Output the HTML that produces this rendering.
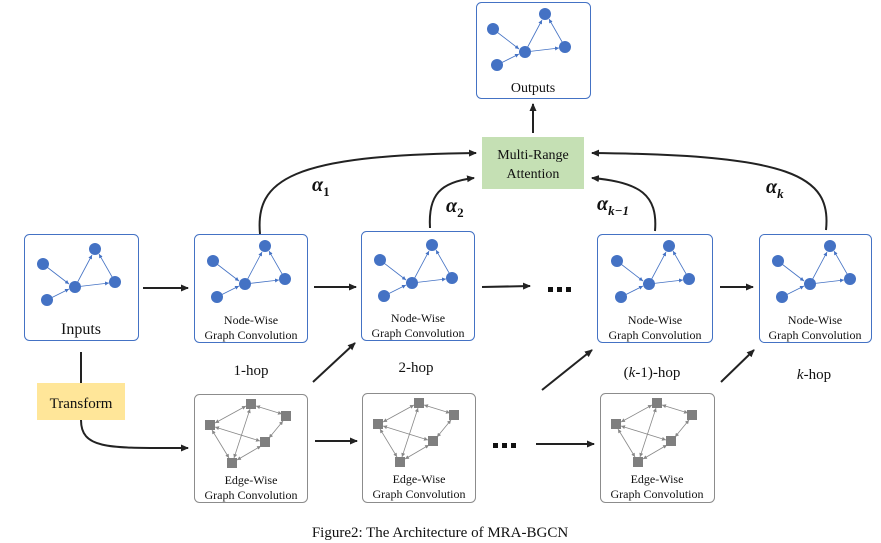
<!DOCTYPE html><html><head><meta charset="utf-8"><style>body{margin:0;background:#fff}svg{display:block}text{font-family:"Liberation Serif",serif}</style></head><body>
<svg width="881" height="543" viewBox="0 0 881 543" xmlns="http://www.w3.org/2000/svg">
<defs>
<marker id="a" markerWidth="8" markerHeight="8" refX="7" refY="4" orient="auto" markerUnits="userSpaceOnUse"><path d="M0,0.5L8,4L0,7.5z" fill="#222"/></marker>
<marker id="b" markerWidth="4" markerHeight="4" refX="4" refY="2" orient="auto-start-reverse" markerUnits="userSpaceOnUse"><path d="M0,0L4,2L0,4z" fill="#4472c4"/></marker>
<marker id="c" markerWidth="4" markerHeight="4" refX="4" refY="2" orient="auto-start-reverse" markerUnits="userSpaceOnUse"><path d="M0,0L4,2L0,4z" fill="#888"/></marker>
<g id="ng">
<g stroke="#4472c4" stroke-width="0.8" marker-end="url(#b)">
<line x1="19" y1="30" x2="45" y2="50"/><line x1="23" y1="66" x2="45" y2="55"/><line x1="51" y1="53" x2="68" y2="21"/><line x1="51" y1="53" x2="85" y2="49"/><line x1="91" y1="48" x2="75" y2="20"/></g>
<g fill="#4472c4"><circle cx="19" cy="30" r="6"/><circle cx="71" cy="15" r="6"/><circle cx="51" cy="53" r="6"/><circle cx="91" cy="48" r="6"/><circle cx="23" cy="66" r="6"/></g></g>
<g id="eg">
<g stroke="#888" stroke-width="0.8" marker-end="url(#c)" marker-start="url(#c)">
<line x1="21" y1="29" x2="52" y2="12"/><line x1="62" y1="12" x2="88" y2="20"/><line x1="89" y1="27" x2="75" y2="44"/><line x1="21" y1="33" x2="66" y2="47"/><line x1="18" y1="36" x2="35" y2="64"/><line x1="56" y1="15" x2="40" y2="64"/><line x1="67" y1="52" x2="43" y2="66"/></g>
<g fill="#7f7f7f"><rect x="11" y="26" width="10" height="10"/><rect x="52" y="5" width="10" height="10"/><rect x="87" y="17" width="10" height="10"/><rect x="66" y="43" width="10" height="10"/><rect x="33" y="64" width="10" height="10"/></g></g>
</defs>
<g fill="#fff" stroke="#4472c4" stroke-width="1">
<rect x="476.5" y="2.5" width="114" height="96" rx="5"/>
<rect x="24.5" y="234.5" width="114" height="106" rx="5"/>
<rect x="194.5" y="234.5" width="113" height="108" rx="5"/>
<rect x="361.5" y="231.5" width="113" height="109" rx="5"/>
<rect x="597.5" y="234.5" width="115" height="108" rx="5"/>
<rect x="759.5" y="234.5" width="112" height="108" rx="5"/>
</g>
<g fill="#fff" stroke="#8c8c8c" stroke-width="1">
<rect x="194.5" y="394.5" width="113" height="108" rx="5"/>
<rect x="362.5" y="393.5" width="113" height="109" rx="5"/>
<rect x="600.5" y="393.5" width="114" height="109" rx="5"/>
</g>
<rect x="482" y="137" width="102" height="52" fill="#c5e0b4"/>
<rect x="37" y="383" width="88" height="37" fill="#ffe699"/>
<use href="#ng" x="474" y="-1"/>
<use href="#ng" x="24" y="234"/>
<use href="#ng" x="194" y="231"/>
<use href="#ng" x="361" y="230"/>
<use href="#ng" x="598" y="231"/>
<use href="#ng" x="759" y="231"/>
<use href="#eg" x="194" y="394"/>
<use href="#eg" x="362" y="393"/>
<use href="#eg" x="600" y="393"/>
<g font-size="14" text-anchor="middle" fill="#111">
<text x="533" y="92">Outputs</text>
<text x="533" y="159">Multi-Range</text><text x="533" y="178">Attention</text>
<text x="81" y="334" font-size="16">Inputs</text>
<text x="81" y="408" font-size="15">Transform</text>
<g font-size="12"><text x="251" y="324">Node-Wise</text><text x="251" y="339">Graph Convolution</text>
<text x="418" y="322">Node-Wise</text><text x="418" y="337">Graph Convolution</text>
<text x="655" y="324">Node-Wise</text><text x="655" y="339">Graph Convolution</text>
<text x="815" y="324">Node-Wise</text><text x="815" y="339">Graph Convolution</text>
<text x="251" y="484">Edge-Wise</text><text x="251" y="499">Graph Convolution</text>
<text x="419" y="483">Edge-Wise</text><text x="419" y="498">Graph Convolution</text>
<text x="657" y="483">Edge-Wise</text><text x="657" y="498">Graph Convolution</text></g>
<text x="251" y="375" font-size="15">1-hop</text>
<text x="416" y="372" font-size="15">2-hop</text>
<text x="652" y="377" font-size="15">(<tspan font-style="italic">k</tspan>-1)-hop</text>
<text x="814" y="379" font-size="15"><tspan font-style="italic">k</tspan>-hop</text>
<text x="440" y="537" font-size="15">Figure2: The Architecture of MRA-BGCN</text>
</g>
<g font-size="20" font-weight="bold" font-style="italic" fill="#111" font-family="DejaVu Serif,serif">
<text x="312" y="191">α<tspan font-size="13" dy="5" font-style="normal">1</tspan></text>
<text x="446" y="212">α<tspan font-size="13" dy="5" font-style="normal">2</tspan></text>
<text x="597" y="210">α<tspan font-size="13" dy="5">k−1</tspan></text>
<text x="766" y="193">α<tspan font-size="13" dy="5">k</tspan></text>
</g>
<g fill="none" stroke="#222" stroke-width="2" marker-end="url(#a)">
<line x1="533" y1="133" x2="533" y2="104"/>
<path d="M260,234 C255,180 290,155 476,153"/>
<path d="M430,228 C428,195 440,182 474,178"/>
<path d="M655,231 C658,195 640,182 592,178"/>
<path d="M826,230 C832,175 790,155 592,153"/>
<line x1="143" y1="288" x2="188" y2="288"/>
<line x1="314" y1="287" x2="356" y2="287"/>
<line x1="482" y1="287" x2="530" y2="286"/>
<line x1="720" y1="287" x2="753" y2="287"/>
<line x1="313" y1="382" x2="355" y2="343"/>
<line x1="542" y1="390" x2="592" y2="350"/>
<line x1="721" y1="382" x2="754" y2="350"/>
<line x1="315" y1="441" x2="357" y2="441"/>
<line x1="536" y1="444" x2="594" y2="444"/>
<path d="M81,420 C81,450 110,448 188,448"/>
</g>
<line x1="81" y1="352" x2="81" y2="383" stroke="#222" stroke-width="2"/>
<g fill="#111"><rect x="548" y="287" width="5" height="5"/><rect x="557" y="287" width="5" height="5"/><rect x="566" y="287" width="5" height="5"/>
<rect x="493" y="443" width="5" height="5"/><rect x="502" y="443" width="5" height="5"/><rect x="511" y="443" width="5" height="5"/></g>
</svg></body></html>
